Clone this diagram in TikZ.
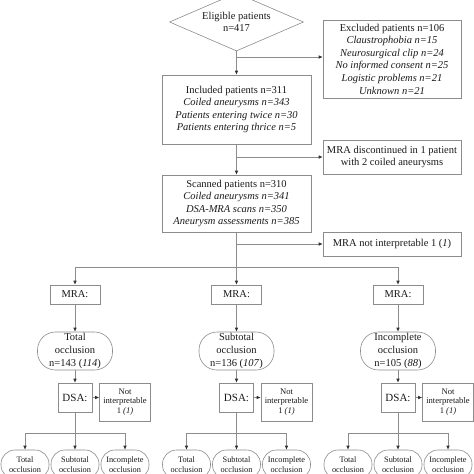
\documentclass[tikz,border=0pt]{standalone}
\usepackage{fontspec}
\setmainfont{Liberation Serif}
\usetikzlibrary{shapes.geometric,arrows.meta}

\begin{document}
\begin{tikzpicture}[x=1pt,y=-1pt,
  every node/.style={font=\fontsize{10.5}{12.6}\selectfont, text=black!90},
  box/.style={draw=black!45, line width=0.6pt, align=center, inner sep=1pt},
  oval/.style={box, rounded corners=18pt},
  small/.style={font=\fontsize{8.3}{10.5}\selectfont},
  line/.style={draw=black!45, line width=0.6pt},
  arr/.style={line, -{Latex[length=4pt,width=3.6pt,color=black!80]}}]
  \useasboundingbox (0,0) rectangle (474,474);
  \clip (0,0) rectangle (474,474);
  % main trunk
  \node[diamond, draw=black!45, line width=0.6pt, aspect=2.3, inner sep=0pt,
        minimum width=134pt, minimum height=58pt, align=center] (elig) at (236.5,22)
        {Eligible patients\\n=417};
  \node[box, minimum width=138pt, minimum height=78pt] (excl) at (392,59)
        {Excluded patients n=106\\\textit{Claustrophobia n=15}\\\textit{Neurosurgical clip n=24}\\
         \textit{No informed consent n=25}\\\textit{Logistic problems n=21}\\\textit{Unknown n=21}};
  \node[box, minimum width=149pt, minimum height=69pt] (incl) at (236.5,109.5)
        {Included patients n=311\\\textit{Coiled aneurysms n=343}\\
         \textit{Patients entering twice n=30}\\\textit{Patients entering thrice n=5}};
  \node[box, minimum width=138pt, minimum height=34pt] (disc) at (392,157)
        {MRA discontinued in 1 patient\\with 2 coiled aneurysms};
  \node[box, minimum width=149pt, minimum height=57pt] (scan) at (236.5,203.5)
        {Scanned patients n=310\\\textit{Coiled aneurysms n=341}\\
         \textit{DSA-MRA scans n=350}\\\textit{Aneurysm assessments n=385}};
  \node[box, minimum width=138pt, minimum height=24pt] (mrani) at (392,244)
        {MRA not interpretable 1 (\textit{1})};

  \coordinate (c1) at (236.5,57);
  \coordinate (c2) at (236.5,157);
  \coordinate (c3) at (236.5,244);
  \coordinate (split) at (236.5,267);
  \draw[arr] (elig) -- (incl);
  \draw[arr] (c1) -- (c1 -| excl.west);
  \draw[arr] (incl) -- (scan);
  \draw[arr] (c2) -- (c2 -| disc.west);
  \draw[line] (scan) -- (split);
  \draw[arr] (c3) -- (c3 -| mrani.west);

  % three MRA branches
  \foreach \x/\kind/\cnt/\sub/\g in {75/Total/143/114/T, 236.5/Subtotal/136/107/S, 398/Incomplete/105/88/I} {
    \node[box, minimum width=50pt, minimum height=19pt] (mra\g) at (\x,294.5) {MRA:};
    \node[oval, minimum width=75pt, minimum height=38pt] (occ\g) at (\x,351)
          {\kind\\occlusion\\n=\cnt{} (\textit{\sub})};
    \node[box, minimum width=34pt, minimum height=29pt, font=\fontsize{11}{13}\selectfont] (dsa\g) at (\x,397.5) {DSA:};
    \node[box, minimum width=51pt, minimum height=38pt, font=\fontsize{8.6}{9.6}\selectfont] (ni\g) at (\x+50,402)
          {Not\\interpretable\\1 \textit{(1)}};
    \node[box, rounded corners=14pt, small, minimum width=48pt, minimum height=29pt] (tot\g) at (\x-50,464.5) {Total\\occlusion};
    \node[box, rounded corners=14pt, small, minimum width=48pt, minimum height=29pt] (sub\g) at (\x,464.5) {Subtotal\\occlusion};
    \node[box, rounded corners=14pt, small, minimum width=48pt, minimum height=29pt] (inc\g) at (\x+50,464.5) {Incomplete\\occlusion};
    \coordinate (s\g) at (\x,433);
    \draw[arr] (split) -| (mra\g);
    \draw[arr] (mra\g) -- (occ\g);
    \draw[arr] (occ\g) -- (dsa\g);
    \draw[arr] (dsa\g.east) -- (dsa\g.east -| ni\g.west);
    \draw[line] (dsa\g) -- (s\g);
    \draw[arr] (s\g) -| (tot\g);
    \draw[arr] (s\g) -- (sub\g);
    \draw[arr] (s\g) -| (inc\g);
  }
\end{tikzpicture}
\end{document}
